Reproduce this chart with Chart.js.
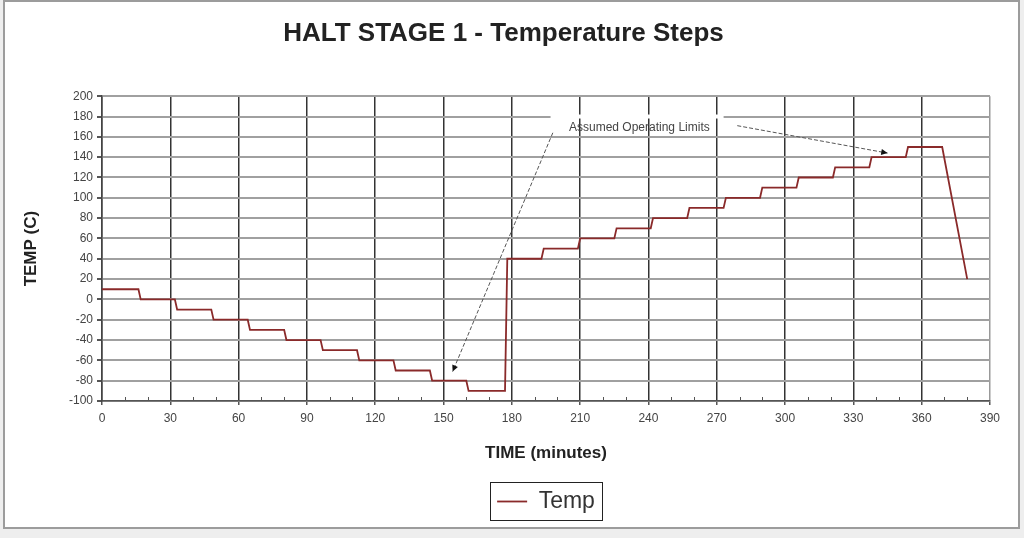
<!DOCTYPE html>
<html>
<head>
<meta charset="utf-8">
<title>HALT STAGE 1 - Temperature Steps</title>
<script src="https://cdn.jsdelivr.net/npm/chart.js@4.4.1/dist/chart.umd.min.js"></script>
<style>
    html, body { margin: 0; padding: 0; background: #eeeeee; }
    #frame {
        position: absolute; left: 3px; top: 0; width: 1017px; height: 529px;
        box-sizing: border-box; border: 2px solid #9c9c9c; background: #ffffff;
    }
    #frame canvas { position: absolute; left: 0; top: 0; }
</style>
</head>
<body>
<div id="frame"><canvas id="halt-chart" width="1013" height="525"></canvas></div>
<script>
// time (minutes) and chamber temperature (C)
const timeMin = [0, 16, 17, 32, 33, 48, 49, 64, 65, 80, 81, 96, 97, 112, 113, 128, 129, 144,
    145, 160, 161, 177, 178, 193, 194, 209, 210, 225, 226, 241, 242, 257, 258, 273,
    274, 289, 290, 305, 306, 321, 322, 337, 338, 353, 354, 369, 380];
const tempC = [10, 10, 0, 0, -10, -10, -20, -20, -30, -30, -40, -40, -50, -50, -60, -60, -70, -70,
    -80, -80, -90, -90, 40, 40, 50, 50, 60, 60, 70, 70, 80, 80, 90, 90,
    100, 100, 110, 110, 120, 120, 130, 130, 140, 140, 150, 150, 20];

// annotation, in data units
const noteText = "Assumed Operating Limits";
const noteGap = { x0: 197, x1: 273, y: 180 };
const noteCenter = { x: 236, y: 169 };
const noteArrows = [
    { from: [198, 164], to: [154, -71] },
    { from: [279, 171], to: [345, 144] }
];

const points = timeMin.map((t, i) => ({ x: t, y: tempC[i] }));
const FONT = "'Liberation Sans', Arial, sans-serif";

const annotationPlugin = {
    id: "operatingLimits",
    afterDatasetsDraw(chart) {
        const ctx = chart.ctx;
        const xs = chart.scales.x, ys = chart.scales.y;
        ctx.save();
        // the label sits over the 180 gridline and blanks it out
        const gx0 = xs.getPixelForValue(noteGap.x0), gx1 = xs.getPixelForValue(noteGap.x1);
        const gy = ys.getPixelForValue(noteGap.y);
        ctx.fillStyle = "#ffffff";
        ctx.fillRect(gx0, gy - 2, gx1 - gx0, 4);
        ctx.fillStyle = "#444";
        ctx.font = "12px " + FONT;
        ctx.textAlign = "center";
        ctx.textBaseline = "middle";
        ctx.fillText(noteText, xs.getPixelForValue(noteCenter.x), ys.getPixelForValue(noteCenter.y));
        noteArrows.forEach(a => {
            const x0 = xs.getPixelForValue(a.from[0]), y0 = ys.getPixelForValue(a.from[1]);
            const x1 = xs.getPixelForValue(a.to[0]), y1 = ys.getPixelForValue(a.to[1]);
            ctx.strokeStyle = "#555";
            ctx.lineWidth = 1;
            ctx.setLineDash([4, 2]);
            ctx.beginPath();
            ctx.moveTo(x0, y0);
            ctx.lineTo(x1, y1);
            ctx.stroke();
            ctx.setLineDash([]);
            const ang = Math.atan2(y1 - y0, x1 - x0);
            ctx.fillStyle = "#111";
            ctx.beginPath();
            ctx.moveTo(x1, y1);
            ctx.lineTo(x1 - 7 * Math.cos(ang - 0.45), y1 - 7 * Math.sin(ang - 0.45));
            ctx.lineTo(x1 - 7 * Math.cos(ang + 0.45), y1 - 7 * Math.sin(ang + 0.45));
            ctx.closePath();
            ctx.fill();
        });
        // minor ticks every 10 minutes sit inside the plot, on the axis line
        ctx.strokeStyle = "#555";
        ctx.lineWidth = 1;
        const yb = chart.chartArea.bottom;
        xs.ticks.forEach(t => {
            if (t.value % 30 === 0) return;
            const px = Math.round(xs.getPixelForValue(t.value)) + 0.5;
            ctx.beginPath();
            ctx.moveTo(px, yb);
            ctx.lineTo(px, yb - 4);
            ctx.stroke();
        });
        ctx.restore();
    },
    afterDraw(chart) {
        // box round the legend, as in the spreadsheet original
        const hb = chart.legend.legendHitBoxes[0];
        if (!hb) return;
        const ctx = chart.ctx;
        ctx.save();
        ctx.strokeStyle = "#222";
        ctx.lineWidth = 1;
        ctx.strokeRect(Math.round(hb.left - 7) + 0.5, Math.round(hb.top - 8) + 0.5, Math.round(hb.width + 14), Math.round(hb.height + 15));
        ctx.restore();
    }
};

new Chart(document.getElementById("halt-chart"), {
    type: "line",
    data: {
        datasets: [{
            label: "Temp",
            data: points,
            borderColor: "#8a2a2a",
            backgroundColor: "#8a2a2a",
            borderWidth: 1.8,
            pointRadius: 0,
            tension: 0
        }]
    },
    options: {
        responsive: false,
        animation: false,
        layout: { padding: { left: 12, right: 28, top: 0, bottom: 4 } },
        plugins: {
            title: {
                display: true,
                text: "HALT STAGE 1 - Temperature Steps",
                color: "#222",
                font: { family: FONT, size: 26, weight: "bold" },
                padding: { top: 16, bottom: 47 }
            },
            legend: {
                position: "bottom",
                fullSize: false,
                labels: {
                    usePointStyle: true,
                    pointStyle: "line",
                    pointStyleWidth: 30,
                    padding: 8,
                    color: "#333",
                    font: { family: FONT, size: 23 }
                }
            },
            tooltip: { enabled: false }
        },
        scales: {
            x: {
                type: "linear",
                min: 0,
                max: 390,
                afterFit: s => { s.height = 81; },
                ticks: {
                    stepSize: 10,
                    autoSkip: false,
                    maxRotation: 0,
                    padding: 6,
                    color: "#444",
                    font: { family: FONT, size: 12 },
                    callback: v => (v % 30 === 0 ? v : "")
                },
                grid: {
                    color: c => (c.tick.value === 390 ? "#999" : (c.tick.value % 30 === 0 ? "#333" : "rgba(0,0,0,0)")),
                    lineWidth: 1.5,
                    tickColor: c => (c.tick.value % 30 === 0 ? "#555" : "rgba(0,0,0,0)"),
                    tickLength: 4
                },
                border: { color: "#555", width: 1.5 },
                title: {
                    display: true,
                    text: "TIME (minutes)",
                    color: "#222",
                    font: { family: FONT, size: 17, weight: "bold" },
                    padding: { top: 4, bottom: 18 }
                }
            },
            y: {
                min: -100,
                max: 200,
                afterFit: s => { s.width = 85; },
                ticks: {
                    stepSize: 20,
                    padding: 4,
                    color: "#444",
                    font: { family: FONT, size: 12 }
                },
                grid: {
                    color: "#a0a0a0",
                    lineWidth: 2,
                    tickColor: "#555",
                    tickLength: 5
                },
                border: { color: "#444", width: 1.5 },
                title: {
                    display: true,
                    text: "TEMP (C)",
                    color: "#222",
                    font: { family: FONT, size: 17, weight: "bold" },
                    padding: { top: 4, bottom: 4 }
                }
            }
        }
    },
    plugins: [annotationPlugin]
});
</script>
</body>
</html>
